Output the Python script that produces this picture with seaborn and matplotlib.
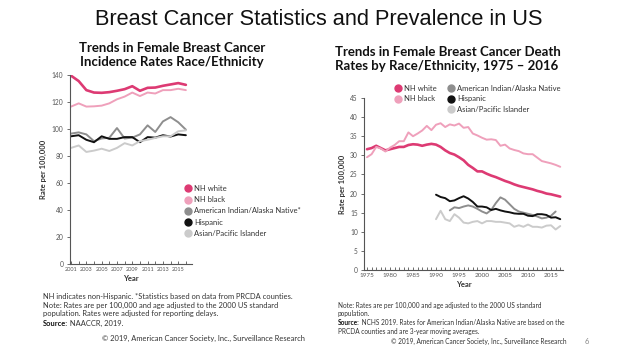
import numpy as np
import pandas as pd
import matplotlib.pyplot as plt
from matplotlib.lines import Line2D
from matplotlib.ticker import MultipleLocator
import seaborn as sns

groups = ['NH white', 'NH black', 'American Indian/Alaska Native', 'Hispanic', 'Asian/Pacific Islander']
colors = ['#dd3a73', '#efa0bb', '#8e8e8e', '#111111', '#cbcbcb']

# incidence, 2001-2016
inc_years = list(range(2001, 2017))
inc_white = [139.5, 135.5, 128.8, 127.0, 126.8, 127.3, 128.3, 129.5, 131.7, 128.3, 130.5, 130.7, 132.0, 133.0, 134.0, 132.7]
inc_black = [116.6, 119.0, 116.6, 116.8, 117.3, 119.0, 122.0, 124.0, 127.0, 124.4, 127.0, 126.3, 128.8, 128.8, 129.8, 128.8]
inc_aian = [96.6, 97.5, 96.0, 91.0, 93.0, 93.5, 100.7, 93.0, 93.6, 96.0, 102.7, 97.8, 105.6, 108.8, 105.0, 99.5]
inc_hisp = [94.6, 95.4, 92.0, 90.2, 94.6, 92.7, 92.7, 94.0, 94.0, 90.2, 94.0, 93.6, 95.4, 94.4, 96.0, 95.4]
inc_api = [86.0, 87.8, 83.0, 84.0, 85.4, 83.7, 86.0, 89.5, 87.8, 91.0, 92.0, 93.4, 94.6, 94.6, 98.3, 99.0]

# mortality
mort_years = list(range(1975, 2018))
mort_white = [31.6, 31.9, 32.5, 31.9, 31.3, 31.6, 31.9, 32.2, 32.2, 32.7, 32.9, 32.8, 32.5, 32.8, 33.0,
              32.8, 32.2, 31.3, 30.6, 30.2, 29.5, 28.7, 27.5, 26.7, 25.8, 25.8, 25.2, 24.7, 24.3, 23.8,
              23.3, 22.9, 22.4, 22.0, 21.7, 21.4, 21.1, 20.7, 20.4, 20.0, 19.8, 19.5, 19.2]
mort_black = [29.5, 30.3, 32.2, 31.8, 31.0, 32.0, 32.7, 33.7, 33.7, 36.0, 35.0, 35.7, 36.5, 37.7, 36.6,
              38.0, 38.4, 37.4, 38.1, 37.8, 38.3, 37.2, 37.4, 35.7, 35.2, 34.6, 34.1, 34.2, 34.0, 32.5,
              32.8, 31.8, 31.4, 31.1, 30.5, 30.3, 30.3, 29.4, 28.5, 28.2, 27.9, 27.5, 27.0]
hisp_years = list(range(1990, 2018))
mort_hisp = [19.7, 19.1, 18.8, 18.0, 18.2, 18.8, 19.3, 18.7, 17.8, 16.6, 16.6, 16.4, 15.7, 16.0, 15.6,
             15.3, 15.1, 14.8, 14.7, 14.7, 14.2, 14.1, 14.6, 14.6, 14.4, 13.7, 13.8, 13.3]
aian_years = list(range(1993, 2017))
mort_aian = [15.6, 16.4, 16.2, 16.6, 16.9, 16.6, 16.0, 15.3, 14.8, 15.7, 17.5, 19.0, 18.4, 17.2, 16.0,
             15.3, 15.0, 14.7, 14.4, 14.0, 13.5, 13.7, 14.2, 15.3]
api_years = list(range(1990, 2018))
mort_api = [13.3, 15.5, 13.3, 12.8, 14.6, 13.7, 12.4, 12.2, 12.6, 12.8, 12.2, 12.8, 12.8, 12.6, 12.6,
            12.4, 12.2, 11.3, 11.7, 11.3, 11.9, 11.3, 11.3, 11.1, 11.6, 11.7, 10.6, 11.5]

inc = pd.concat([pd.DataFrame({'year': inc_years, 'rate': v, 'group': g})
                 for g, v in zip(groups, [inc_white, inc_black, inc_aian, inc_hisp, inc_api])])
mort = pd.concat([pd.DataFrame({'year': yr, 'rate': v, 'group': g})
                  for g, yr, v in zip(groups,
                                      [mort_years, mort_years, aian_years, hisp_years, api_years],
                                      [mort_white, mort_black, mort_aian, mort_hisp, mort_api])])

sns.set_style('ticks')
plt.rcParams['font.family'] = ['Lato', 'DejaVu Sans']
txt = '#333333'
palette = dict(zip(groups, colors))
widths = {'NH white': 1.9}

fig = plt.figure(figsize=(6.38, 3.59), dpi=100)
fig.text(0.5, 0.947, 'Breast Cancer Statistics and Prevalence in US', ha='center', va='center',
         fontsize=15.7, family='Liberation Sans', color='#111111')

fig.text(0.27, 0.847, 'Trends in Female Breast Cancer\nIncidence Rates Race/Ethnicity', ha='center',
         va='center', fontsize=9.5, fontweight='bold', linespacing=1.15, color='#111111')
fig.text(0.525, 0.835, 'Trends in Female Breast Cancer Death\nRates by Race/Ethnicity, 1975 \u2013 2016',
         ha='left', va='center', fontsize=9.5, fontweight='bold', linespacing=1.15, color='#111111')


def style_axis(ax, major, minor, ystep, xsize):
    sns.despine(ax=ax)
    for s in ['left', 'bottom']:
        ax.spines[s].set_color('#555555')
        ax.spines[s].set_linewidth(0.8)
    ax.xaxis.set_major_locator(MultipleLocator(major))
    ax.xaxis.set_minor_locator(MultipleLocator(minor))
    ax.yaxis.set_major_locator(MultipleLocator(ystep))
    ax.tick_params(axis='x', which='both', direction='in', length=2.5, width=0.6,
                   colors='#555555', labelsize=xsize, pad=2)
    ax.tick_params(axis='y', length=2.5, width=0.6, colors='#555555', labelsize=4.8, pad=2)
    ax.set_xlabel('Year', fontsize=5.5, fontweight='bold', color=txt, labelpad=2)
    ax.set_ylabel('Rate per 100,000', fontsize=5.5, fontweight='bold', color=txt, labelpad=3)
    ax.patch.set_alpha(0)


ax1 = fig.add_axes([69.5 / 638, 1 - 264 / 359, 122.5 / 638, (264 - 75) / 359])
for g in groups:
    sub = inc[inc['group'] == g]
    sns.lineplot(data=sub, x='year', y='rate', color=palette[g], lw=widths.get(g, 1.4), ax=ax1)
ax1.set_xlim(2000.8, 2016.8)
ax1.set_ylim(0, 140)
style_axis(ax1, 2, 1, 20, 4.0)
ax1.xaxis.set_major_locator(plt.FixedLocator(range(2001, 2017, 2)))

h1 = [Line2D([], [], lw=0, marker='o', markersize=5, color=c) for c in colors]
lab1 = groups[:2] + ['American Indian/Alaska Native*'] + groups[3:]
ax1.legend(h1, lab1, loc='upper left', bbox_to_anchor=(181 / 638, 1 - 182 / 359),
           bbox_transform=fig.transFigure, frameon=False, fontsize=5.5, handletextpad=0.3,
           labelspacing=0.55, borderaxespad=0, labelcolor=txt, handlelength=1.0)

ax2 = fig.add_axes([364 / 638, 1 - 270 / 359, 199 / 638, (270 - 98) / 359])
for g in groups:
    sub = mort[mort['group'] == g]
    sns.lineplot(data=sub, x='year', y='rate', color=palette[g], lw=widths.get(g, 1.4), ax=ax2)
ax2.set_xlim(1974.35, 2017.6)
ax2.set_ylim(0, 45)
style_axis(ax2, 5, 1, 5, 4.6)
ax2.set_xticks(range(1975, 2016, 5))

h2 = [Line2D([], [], lw=0, marker='o', markersize=5, color=c) for c in colors]
leg_a = ax2.legend(h2[:2], groups[:2], loc='upper left', bbox_to_anchor=(391 / 638, 1 - 82 / 359),
                   bbox_transform=fig.transFigure, frameon=False, fontsize=5.5, handletextpad=0.3,
                   labelspacing=0.45, borderaxespad=0, labelcolor=txt, handlelength=1.0)
ax2.add_artist(leg_a)
ax2.legend(h2[2:], groups[2:], loc='upper left', bbox_to_anchor=(444 / 638, 1 - 82 / 359),
           bbox_transform=fig.transFigure, frameon=False, fontsize=5.5, handletextpad=0.3,
           labelspacing=0.45, borderaxespad=0, labelcolor=txt, handlelength=1.0)


def note(x, y, s, size, source=False):
    if not source:
        return fig.text(x / 638, 1 - y / 359, s, fontsize=size, color=txt, va='center', ha='left')
    t = fig.text(x / 638, 1 - y / 359, 'Source:', fontsize=size, color='#111111',
                 fontweight='bold', va='center', ha='left')
    fig.add_artist(plt.Annotation(' ' + s, xy=(1, 0.5), xycoords=t, va='center', ha='left',
                                  fontsize=size, color=txt))


nl = 5.42
note(43, 296, 'NH indicates non-Hispanic. *Statistics based on data from PRCDA counties.', nl)
note(43, 305, 'Note: Rates are per 100,000 and age adjusted to the 2000 US standard', nl)
note(43, 313.5, 'population. Rates were adjusted for reporting delays.', nl)
note(43, 323.5, 'NAACCR, 2019.', nl, source=True)
fig.text(203 / 638, 1 - 338 / 359, '\u00a9 2019, American Cancer Society, Inc., Surveillance Research',
         fontsize=5.4, color=txt, va='center', ha='center')

nr = 4.72
note(338, 305, 'Note: Rates are per 100,000 and age adjusted to the 2000 US standard', nr)
note(338, 313.5, 'population.', nr)
note(338, 322.7, 'NCHS 2019. Rates for American Indian/Alaska Native are based on the', nr, source=True)
note(338, 331.7, 'PRCDA counties and are 3-year moving averages.', nr)
fig.text(479 / 638, 1 - 341 / 359, '\u00a9 2019, American Cancer Society, Inc., Surveillance Research',
         fontsize=4.7, color=txt, va='center', ha='center')
fig.text(587 / 638, 1 - 342 / 359, '6', fontsize=5.5, color='#888888', va='center', ha='center')

fig.savefig('out.png', dpi=100)
